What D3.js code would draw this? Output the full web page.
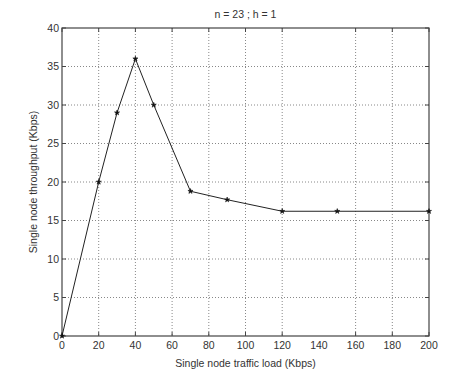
<!DOCTYPE html>
<html>
<head>
<meta charset="utf-8">
<script src="https://cdn.jsdelivr.net/npm/d3@7"></script>
<style>
  body { margin: 0; background: #fff; }
  svg { display: block; font-family: "Liberation Sans", Arial, sans-serif; }
</style>
</head>
<body>
<svg width="474" height="378"></svg>
<script>
// data
const load = [0, 20, 30, 40, 50, 70, 90, 120, 150, 200];
const throughput = [0, 20, 29, 36, 30, 18.8, 17.7, 16.2, 16.2, 16.2];
const xTicks = [0, 20, 40, 60, 80, 100, 120, 140, 160, 180, 200];
const xGrid = [20, 40, 60, 80, 100, 120, 160, 180];   // 140 line is missing in the original
const yTicks = [0, 5, 10, 15, 20, 25, 30, 35, 40];

const svg = d3.select("svg");
const plotL = 62, plotR = 429, plotT = 28, plotB = 336;

const x = d3.scaleLinear().domain([0, 200]).range([plotL, plotR]);
const y = d3.scaleLinear().domain([0, 40]).range([plotB, plotT]);

const axisColor = "#444";
const textColor = "#333";

// grid
svg.append("g").selectAll("line")
    .data(xGrid)
    .enter().append("line")
    .attr("x1", d => x(d)).attr("x2", d => x(d))
    .attr("y1", plotT).attr("y2", plotB)
    .attr("stroke", "#888")
    .attr("stroke-dasharray", "1,2");

svg.append("g").selectAll("line")
    .data(yTicks.slice(1, -1))
    .enter().append("line")
    .attr("x1", plotL).attr("x2", plotR)
    .attr("y1", d => y(d)).attr("y2", d => y(d))
    .attr("stroke", "#888")
    .attr("stroke-dasharray", "1,2");

// tick marks (inward, on all four sides)
const tickLen = 4;
const tk = svg.append("g").attr("stroke", axisColor);
xGrid.concat([0, 200]).forEach(d => {
    tk.append("line").attr("x1", x(d)).attr("x2", x(d)).attr("y1", plotB).attr("y2", plotB - tickLen);
    tk.append("line").attr("x1", x(d)).attr("x2", x(d)).attr("y1", plotT).attr("y2", plotT + tickLen);
});
yTicks.forEach(d => {
    tk.append("line").attr("x1", plotL).attr("x2", plotL + tickLen).attr("y1", y(d)).attr("y2", y(d));
    tk.append("line").attr("x1", plotR).attr("x2", plotR - tickLen).attr("y1", y(d)).attr("y2", y(d));
});

// frame
svg.append("rect")
    .attr("x", plotL).attr("y", plotT)
    .attr("width", plotR - plotL).attr("height", plotB - plotT)
    .attr("fill", "none")
    .attr("stroke", axisColor)
    .attr("stroke-width", 1.2);

// tick labels
svg.append("g").selectAll("text")
    .data(xTicks)
    .enter().append("text")
    .attr("x", d => x(d))
    .attr("y", plotB + 13)
    .attr("text-anchor", "middle")
    .attr("font-size", 10.5)
    .attr("fill", textColor)
    .text(d => d);

svg.append("g").selectAll("text")
    .data(yTicks)
    .enter().append("text")
    .attr("x", plotL - 3)
    .attr("y", d => y(d))
    .attr("dy", "0.35em")
    .attr("text-anchor", "end")
    .attr("font-size", 10.5)
    .attr("fill", textColor)
    .text(d => d);

// series
const pts = load.map((d, i) => [d, throughput[i]]);
svg.append("path")
    .datum(pts)
    .attr("d", d3.line().x(d => x(d[0])).y(d => y(d[1])))
    .attr("fill", "none")
    .attr("stroke", "#222")
    .attr("stroke-width", 1);

svg.append("g").selectAll("path")
    .data(pts)
    .enter().append("path")
    .attr("transform", d => `translate(${x(d[0])},${y(d[1])})`)
    .attr("d", d3.symbol(d3.symbolStar, 8))
    .attr("fill", "#111")
    .attr("stroke", "#111")
    .attr("stroke-width", 0.6);

// labels
svg.append("text")
    .attr("x", (plotL + plotR) / 2)
    .attr("y", 18)
    .attr("text-anchor", "middle")
    .attr("font-size", 10.5)
    .attr("fill", textColor)
    .text("n = 23 ; h = 1");

svg.append("text")
    .attr("x", (plotL + plotR) / 2)
    .attr("y", 367)
    .attr("text-anchor", "middle")
    .attr("font-size", 10.5)
    .attr("fill", textColor)
    .text("Single node traffic load (Kbps)");

svg.append("text")
    .attr("transform", `translate(37,${(plotT + plotB) / 2}) rotate(-90)`)
    .attr("text-anchor", "middle")
    .attr("font-size", 10.5)
    .attr("fill", textColor)
    .text("Single node throughput (Kbps)");
</script>
</body>
</html>
